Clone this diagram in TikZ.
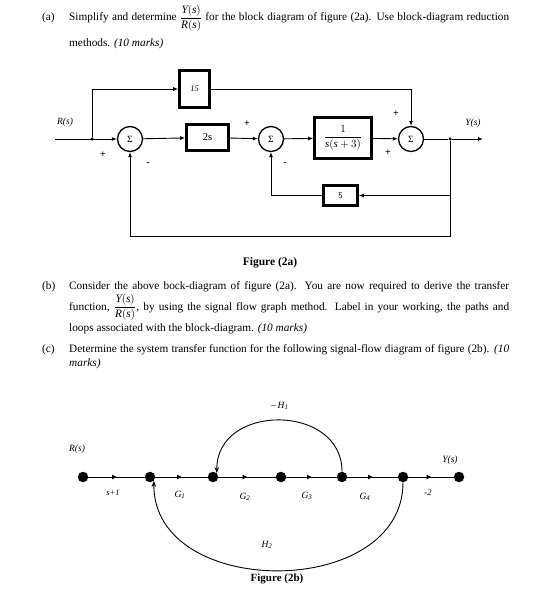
\documentclass[tikz,border=0pt]{standalone}
\usepackage{fontspec}
\setmainfont{Liberation Serif}
\usetikzlibrary{arrows.meta,positioning,decorations.markings}
\newcommand{\YR}{$\displaystyle\frac{\textit{Y}(\textit{s})}{\textit{R}(\textit{s})}$}
\newcommand{\sub}[2]{\textit{#1}\textsubscript{\scriptsize #2}}

\begin{document}
\begin{tikzpicture}[x=1pt,y=-1pt,
  txt/.style={anchor=base west, inner sep=0pt, font=\fontsize{11.3}{14}\selectfont},
  blk/.style={draw, line width=2.6pt, inner sep=0pt},
  sumnode/.style={circle, draw, line width=1.3pt, minimum size=25pt, inner sep=0pt, font=\fontsize{9.5}{10}\selectfont},
  sgn/.style={font=\fontsize{10}{10}\selectfont\bfseries, inner sep=0pt},
  lbl/.style={font=\fontsize{9.5}{10}\selectfont\itshape, inner sep=0pt},
  dot/.style={circle, fill, inner sep=0pt, minimum size=3.5pt},
  sfnode/.style={circle, fill, inner sep=0pt, minimum size=10.5pt},
  sig/.style={line width=0.9pt, -{Latex[length=5pt,width=4pt]}},
  branch/.style={line width=0.9pt, postaction={decorate},
    decoration={markings, mark=at position 0.5 with {\arrow{Triangle[length=4.5pt,width=4.5pt]}}}}]
  \useasboundingbox (0,0) rectangle (550,591);

  % Question text (a)
  \node[txt] at (42,21) {(a)};
  \node[txt] (qa1) at (69,21) {\makebox[440pt][s]{Simplify and determine \YR{} for the block diagram of figure (2a). Use block-diagram reduction}};
  \node[txt] (qa2) at (69,47) {methods. \textit{(10 marks)}};

  % Block diagram, figure (2a)
  \coordinate (rin) at (55,139);
  \node[dot] (bR) at (92,139) {};
  \node[sumnode] (sum1) at (130,139) {Σ};
  \node[blk, minimum width=30pt, minimum height=37pt, font=\fontsize{8.5}{10}\selectfont\itshape] (k15) at (194.5,89) {15};
  \node[blk, minimum width=42pt, minimum height=26pt, font=\fontsize{10.5}{12}\selectfont] (b2s) at (207.5,137.5) {2s};
  \node[sumnode] (sum2) at (271,139) {Σ};
  \node[blk, minimum width=57pt, minimum height=41pt, font=\fontsize{11}{12}\selectfont] (gp) at (343,138)
    {$\displaystyle\frac{1}{\textit{s}(\textit{s}+3)}$};
  \node[sumnode] (sum3) at (411,139) {Σ};
  \node[dot] (out) at (450,139) {};
  \coordinate (yend) at (483,139);
  \node[blk, minimum width=34pt, minimum height=20pt, font=\fontsize{8.5}{10}\selectfont\sffamily] (k5) at (340.5,195.5) {5};
  \coordinate (fb) at (450,236);

  \draw[sig] (rin) -- (sum1);
  \draw[sig] (bR) |- (k15.west);
  \draw[sig] (k15.east) -| (sum3.north);
  \draw[sig] (sum1) -- (b2s);
  \draw[sig] (b2s) -- (sum2);
  \draw[sig] (sum2) -- (gp);
  \draw[sig] (gp) -- (sum3);
  \draw[line width=0.9pt] (sum3) -- (out);
  \draw[sig] (out) -- (yend);
  \draw[sig] (out) |- (k5.east);
  \draw[sig] (k5.west) -| (sum2.south);
  \draw[sig] (out) -- (fb) -| (sum1.south);

  \node[lbl] at (65,122) {R(s)};
  \node[lbl] at (473,123) {Y(s)};
  \node[sgn] at (103,155) {+};
  \node[sgn] at (148,164) {-};
  \node[sgn] at (247,124) {+};
  \node[sgn] at (285,164) {-};
  \node[sgn] at (396,114) {+};
  \node[sgn] at (388,153) {+};
  \node[txt, anchor=base, font=\fontsize{11.5}{12}\selectfont\bfseries] at (270,265) {Figure (2a)};

  % Question text (b) and (c)
  \node[txt] at (42,289) {(b)};
  \node[txt] (qb1) at (69,289) {\makebox[440pt][s]{Consider the above bock-diagram of figure (2a). You are now required to derive the transfer}};
  \node[txt] (qb2) at (69,310) {\makebox[440pt][s]{function, \YR, by using the signal flow graph method. Label in your working, the paths and}};
  \node[txt] (qb3) at (69,331) {loops associated with the block-diagram. \textit{(10 marks)}};
  \node[txt] at (42,352) {(c)};
  \node[txt] (qc1) at (69,352) {\makebox[440pt][s]{Determine the system transfer function for the following signal-flow diagram of figure (2b). \textit{(10}}};
  \node[txt] (qc2) at (69,366) {\textit{marks)}};

  % Signal-flow graph, figure (2b)
  \node[sfnode] (n1) at (83,477) {};
  \node[sfnode] (n2) at (150,477) {};
  \node[sfnode] (n3) at (213,477) {};
  \node[sfnode] (n4) at (281,477) {};
  \node[sfnode] (n5) at (342,477) {};
  \node[sfnode] (n6) at (403,477) {};
  \node[sfnode] (n7) at (459,477) {};
  \draw[branch] (n1) -- (n2);
  \draw[branch] (n2) -- (n3);
  \draw[branch] (n3) -- (n4);
  \draw[branch] (n4) -- (n5);
  \draw[branch] (n5) -- (n6);
  \draw[branch] (n6) -- (n7);
  \draw[line width=0.9pt, -{Stealth[length=6pt,width=4.5pt]}] (n5.north) .. controls (342,403) and (216,403) .. (n3.north east);
  \draw[line width=0.9pt, -{Stealth[length=6pt,width=4.5pt]}] (n6.south) .. controls (403,600) and (153,600) .. (n2.south east);

  \node[lbl] at (77,449) {R(s)};
  \node[lbl] at (450,460) {Y(s)};
  \node[lbl, font=\fontsize{8.5}{10}\selectfont\itshape] at (113,493) {s+1};
  \node[lbl] at (180,495) {\sub{G}{1}};
  \node[lbl] at (245,497) {\sub{G}{2}};
  \node[lbl] at (307,496) {\sub{G}{3}};
  \node[lbl] at (365,497) {\sub{G}{4}};
  \node[lbl, font=\fontsize{8.5}{10}\selectfont\itshape] at (428,493) {-2};
  \node[lbl] at (280,406) {\textup{–}\,\sub{H}{1}};
  \node[lbl] at (267,545) {\sub{H}{2}};
  \node[txt, anchor=base, font=\fontsize{11}{12}\selectfont\bfseries] at (277,581) {Figure (2b)};
\end{tikzpicture}
\end{document}
